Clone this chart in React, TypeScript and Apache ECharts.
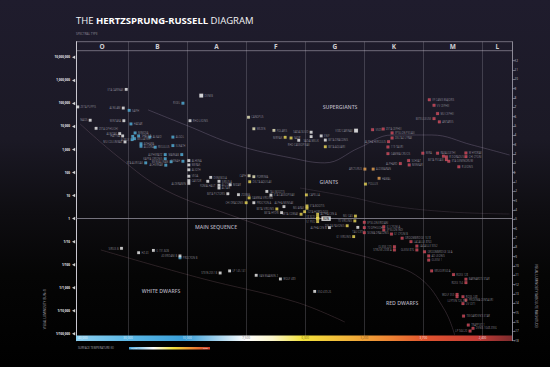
import React, { useEffect, useRef } from "react";
import * as echarts from "echarts";

type Side = "l" | "r" | "t" | "b" | "n";
type Star = [string, number, number, Side];

// Spectral classes and the boundaries between them (continuous spectral index)
const spectralClasses = ["O", "B", "A", "F", "G", "K", "M", "L"];
const classBoundaries = [0.12, 1, 2, 3, 4, 5, 6, 7, 7.5];
const temperatureLabels = ["40,000", "30,000", "10,000", "7,500", "6,000", "5,200", "3,700", "2,400"];

// Luminosity axis (log10 of L/Lsun)
const lumTickValues = [-5, -4, -3, -2, -1, 0, 1, 2, 3, 4, 5, 6, 7];
const lumTickLabels = ["1/100,000", "1/10,000", "1/1,000", "1/100", "1/10", "1", "10", "100", "1,000", "10,000", "100,000", "1,000,000", "10,000,000"];

// Absolute magnitude axis
const magTickValues = [-12, -11, -10, -9, -8, -7, -6, -5, -4, -3, -2, -1, 0, 1, 2, 3, 4, 5, 6, 7, 8, 9, 10, 11, 12, 13, 14, 15, 16, 17, 18];
const magTickLabels = ["-12", "-11", "-10", "-9", "-8", "-7", "-6", "-5", "-4", "-3", "-2", "-1", "0", "+1", "+2", "+3", "+4", "+5", "+6", "+7", "+8", "+9", "+10", "+11", "+12", "+13", "+14", "+15", "+16", "+17", "+18"];

// Stars: [name, spectral index, log10 luminosity, label side]
const blueStars: Star[] = [
  ["RIGEL", 1.93, 5.01, "l"],
  ["SAIPH", 1.02, 4.70, "r"],
  ["HADAR", 1.05, 4.11, "r"],
  ["MIMOSA", 1.12, 3.72, "r"],
  ["SPICA", 1.08, 3.57, "n"],
  ["BELLATRIX", 1.11, 3.47, "r"],
  ["ACRUX", 1.07, 3.43, "l"],
  ["SHAULA", 1.18, 3.59, "r"],
  ["ALKAID", 1.37, 3.54, "r"],
  ["ALGOL", 1.76, 3.54, "r"],
  ["ADHARA", 1.22, 3.25, "r"],
  ["ALUDRA", 1.22, 3.14, "r"],
  ["REGULUS", 1.46, 3.10, "r"],
  ["ELNATH", 1.76, 3.17, "r"],
  ["ALPHERATZ", 1.63, 2.78, "l"],
  ["MARKAB", 1.91, 2.78, "l"],
  ["KAPPA ORIONIS", 1.63, 2.60, "l"],
  ["GIENAH", 1.93, 2.49, "l"],
  ["MENKALINAN", 1.73, 2.47, "l"],
  ["ETA AURIGAE", 1.30, 2.42, "l"],
  ["ACHERNAR", 1.64, 2.32, "l"],
  ["PROCYON B", 1.88, -1.70, "r"],
];

const brightStars: Star[] = [
  ["DENEB", 2.24, 5.34, "r"],
  ["V382 CARINAE", 4.86, 3.82, "l"],
];

const whiteStars: Star[] = [
  ["ETA CARINAE", 0.97, 5.61, "l"],
  ["ZETA PUPPIS", 0.15, 4.85, "r"],
  ["ALNILAM", 0.92, 4.80, "l"],
  ["NAOS", 0.36, 4.27, "l"],
  ["MINTAKA", 0.93, 4.25, "l"],
  ["RHO LEONIS", 2.05, 4.25, "r"],
  ["ZETA OPHIUCHI", 0.46, 3.92, "r"],
  ["ALNITAK", 0.86, 3.69, "l"],
  ["HATYSA", 0.91, 3.59, "l"],
  ["MU COLUMBAE", 0.95, 3.33, "l"],
  ["ALHENA", 2.03, 2.52, "r"],
  ["MERAK", 2.03, 2.33, "r"],
  ["ALIOTH", 2.03, 2.12, "r"],
  ["VEGA", 2.03, 1.84, "r"],
  ["CASTOR", 2.03, 1.65, "r"],
  ["ALDERAMIN", 2.03, 1.53, "l"],
  ["DENEBOLA", 2.40, 1.79, "r"],
  ["FOMALHAUT", 2.35, 1.62, "b"],
  ["SIRIUS A", 2.54, 1.62, "r"],
  ["ALCOR", 2.54, 1.45, "r"],
  ["ALTAIR", 2.54, 1.33, "r"],
  ["MIZAR", 2.73, 1.47, "r"],
  ["BETA PICTORIS", 2.69, 1.08, "l"],
  ["ZOSMA", 2.87, 1.04, "r"],
  ["TAU BOOTIS", 3.35, 1.18, "r"],
  ["ETA CASSIOPEIAE", 3.42, 1.02, "r"],
  ["PROCYON A", 3.13, 0.69, "r"],
  ["ALPHA MENSAE", 3.64, 0.52, "t"],
  ["BETA HYDRI", 3.60, 0.26, "l"],
  ["RHO CASSIOPEIAE", 3.89, 3.40, "b"],
  ["SADALSUUD", 4.10, 3.75, "l"],
  ["SADALMELIK", 4.10, 3.56, "b"],
  ["ENIF", 4.27, 3.59, "r"],
  ["BETA DRACONIS", 4.34, 3.41, "r"],
  ["TAU CETI", 4.89, -0.38, "b"],
  ["ALPHA CEN B", 4.41, -0.39, "l"],
  ["ESO 439-26", 4.16, -3.16, "r"],
  ["SIRIUS B", 0.89, -1.29, "l"],
  ["HZ 43", 1.18, -1.48, "r"],
  ["G 191-B2B", 1.43, -1.38, "r"],
  ["40 ERIDANI B", 1.88, -1.62, "l"],
  ["STEIN 2051 B", 2.56, -2.36, "l"],
  ["LP 145-141", 2.72, -2.27, "r"],
  ["VAN MAANEN 2", 3.17, -2.46, "r"],
  ["WOLF 489", 3.58, -2.62, "r"],
];

const paleYellowStars: Star[] = [
  ["CANOPUS", 3.04, 4.40, "r"],
  ["WEZEN", 3.13, 3.90, "r"],
  ["POLARIS", 3.47, 3.83, "r"],
  ["CAPH", 3.05, 1.86, "l"],
  ["PORRIMA", 3.13, 1.82, "r"],
];

const yellowStars: Star[] = [
  ["MIRFAK", 3.66, 3.53, "l"],
  ["SADR", 3.76, 3.50, "r"],
  ["DELTA AQUILAE", 3.06, 1.60, "r"],
  ["GAMMA VIRGINIS", 3.05, 0.90, "r"],
  ["CHI DRACONIS", 3.00, 0.69, "l"],
  ["BETA VIRGINIS", 3.52, 0.42, "l"],
  ["BETA AQUARII", 4.34, 3.12, "r"],
  ["CAPELLA", 4.02, 1.03, "r"],
  ["POLLUX", 5.02, 1.50, "r"],
  ["ETA BOOTIS", 4.03, 0.55, "r"],
  ["MU ARAE", 4.03, 0.45, "l"],
  ["IOTA HOROLOGII", 3.99, 0.30, "r"],
  ["BETA COMAE", 3.93, 0.19, "l"],
  ["ALPHA CEN A", 4.21, 0.19, "r"],
  ["18 SCO", 4.21, 0.08, "l"],
  ["51 PEG", 4.21, -0.13, "l"],
  ["MU CAS", 4.85, 0.11, "l"],
  ["70 VIRGINIS", 4.84, -0.10, "l"],
  ["DELTA PAVONIS", 4.71, -0.31, "l"],
  ["61 VIRGINIS", 4.82, -0.78, "l"],
];

const sunStar: Star[] = [["SUN", 4.21, 0, "r"]];

const orangeStars: Star[] = [
  ["ARCTURUS", 5.01, 2.15, "l"],
  ["ALDEBARAN", 5.15, 2.15, "r"],
  ["HAMAL", 5.25, 1.75, "r"],
];

const redStars: Star[] = [
  ["V509", 5.14, 3.86, "r"],
  ["ZETA CEPHEI", 5.32, 3.89, "r"],
  ["EPSILON PEGASI", 5.47, 3.72, "r"],
  ["DELTA2 LYRAE", 5.47, 3.50, "r"],
  ["ALPHA HERCULIS", 5.41, 3.34, "l"],
  ["119 TAURI", 5.40, 3.11, "r"],
  ["GAMMA CRUCIS", 5.40, 2.82, "r"],
  ["ALPHARD", 5.61, 2.39, "l"],
  ["SCHEAT", 5.75, 2.52, "r"],
  ["MENKAR", 5.76, 2.33, "r"],
  ["VY CANIS MAJORIS", 6.10, 5.16, "r"],
  ["VV CEPHEI", 6.18, 4.92, "r"],
  ["MU CEPHEI", 6.24, 4.56, "r"],
  ["BETELGEUSE", 6.18, 4.34, "l"],
  ["ANTARES", 6.27, 4.20, "r"],
  ["MIRA", 5.99, 2.84, "r"],
  ["RASALGETHI", 6.24, 2.84, "r"],
  ["GACRUX", 6.34, 2.71, "n"],
  ["R DORADUS", 6.39, 2.68, "r"],
  ["BETA PEGASI", 6.39, 2.56, "l"],
  ["ETA GEMINORUM", 6.43, 2.49, "r"],
  ["W HYDRAE", 6.72, 2.85, "r"],
  ["CHI CYGNI", 6.72, 2.69, "r"],
  ["R LEONIS", 6.60, 2.25, "r"],
  ["EPSILON ERIDANI", 5.00, -0.16, "r"],
  ["70 OPHIUCHI", 5.00, -0.39, "r"],
  ["SIGMA DRACONIS", 5.00, -0.61, "r"],
  ["61 CYGNI A", 5.33, -0.35, "r"],
  ["EPSILON INDI", 5.33, -0.49, "r"],
  ["61 CYGNI B", 5.46, -0.67, "r"],
  ["GROOMBRIDGE 1618", 5.64, -0.85, "r"],
  ["LACAILLE 8760", 5.79, -1.00, "r"],
  ["GLIESE 229", 5.51, -1.22, "l"],
  ["STRUVE 2398 A", 5.51, -1.36, "l"],
  ["LACAILLE 9352", 5.89, -1.19, "r"],
  ["GLIESE 876", 5.89, -1.36, "l"],
  ["GROOMBRIDGE 34 A", 6.02, -1.44, "r"],
  ["AD LEONIS", 6.09, -1.62, "r"],
  ["GLIESE 1", 6.09, -1.80, "r"],
  ["KRUGER 60 A", 6.14, -2.27, "r"],
  ["ROSS 128", 6.51, -2.43, "r"],
  ["BARNARD'S STAR", 6.72, -2.63, "r"],
  ["ROSS 154", 6.72, -2.78, "l"],
  ["WOLF 359", 6.57, -3.29, "l"],
  ["LUYTEN 726-8 A", 6.57, -3.39, "b"],
  ["ROSS 248", 6.67, -3.39, "r"],
  ["PROXIMA CENTAURI", 6.72, -3.53, "r"],
  ["UV CETI", 6.67, -3.69, "r"],
  ["TEEGARDEN'S STAR", 6.68, -4.23, "r"],
  ["TRAPPIST-1", 6.76, -4.62, "r"],
  ["DENIS 1048-3956", 6.84, -4.76, "r"],
  ["LP 944-20", 6.79, -4.88, "l"],
];

// Region names and their positions [spectral index, log L]
const regionNames = ["SUPERGIANTS", "GIANTS", "MAIN SEQUENCE", "WHITE DWARFS", "RED DWARFS"];
const regionX = [4.59, 4.40, 2.49, 1.56, 5.64];
const regionY = [4.83, 1.60, -0.35, -3.14, -3.65];

// Faint region boundary curves
const supergiantCurve = [[1.34, 4.72], [1.98, 4.06], [2.83, 3.2], [3.77, 2.63], [4.33, 2.42], [4.91, 3.07], [5.47, 3.63], [6.14, 3.63], [6.82, 3.2], [7.46, 2.76]];
const mainSequenceCurve = [[0.19, 4.11], [0.86, 2.63], [1.63, 1.24], [2.73, 0.16], [3.84, -0.8], [4.59, -1.36], [5.3, -1.88], [5.94, -2.58], [6.36, -3.97], [6.53, -5.05]];
const whiteDwarfCurve = [[0.54, -1.36], [2.22, -2.58], [3.84, -3.62], [4.67, -4.49]];
const giantCurve = [[3.91, 1.33], [4.76, 0.94], [5.47, 0.55], [6.45, 0.29], [7.46, 0.2]];

const FONT = "'Open Sans', 'DejaVu Sans', sans-serif";
const Y_MIN = -5.3;
const Y_MAX = 7.68;
const HEADER_Y = 7.48;

const SIDE_POS: Record<string, string> = { l: "left", r: "right", t: "top", b: "bottom", n: "right" };

function starSeries(stars: Star[], color: string, size: number, extra: any = {}) {
  return {
    type: "scatter",
    symbol: "rect",
    symbolSize: size,
    clip: false,
    silent: true,
    z: 5,
    itemStyle: { color, borderColor: "rgba(255,255,255,0.3)", borderWidth: 0.3 },
    label: {
      show: true,
      formatter: "{b}",
      fontSize: 2.6,
      color: "#a3a1af",
      distance: 1.3,
      fontFamily: FONT,
    },
    data: stars.map(([name, x, y, side]) => ({
      name,
      value: [x, y],
      label: { position: SIDE_POS[side], show: side !== "n" },
    })),
    ...extra,
  };
}

function curveSeries(data: number[][], color: string) {
  return {
    type: "line",
    data,
    smooth: 0.4,
    symbol: "none",
    silent: true,
    z: 1,
    lineStyle: { color, width: 1 },
  };
}

export default function App() {
  const ref = useRef<HTMLDivElement>(null);

  useEffect(() => {
    document.body.style.margin = "0";
    if (!ref.current) return;
    const chart = echarts.init(ref.current, undefined, { renderer: "svg" });

    const colorBar = new echarts.graphic.LinearGradient(0, 0, 1, 0, [
      { offset: 0, color: "#8dd0f0" },
      { offset: 0.12, color: "#5cb8e6" },
      { offset: 0.25, color: "#3a9fd8" },
      { offset: 0.39, color: "#ffffff" },
      { offset: 0.45, color: "#fbf6cc" },
      { offset: 0.52, color: "#f3e23c" },
      { offset: 0.63, color: "#f2b13a" },
      { offset: 0.72, color: "#ee8434" },
      { offset: 0.8, color: "#e2552f" },
      { offset: 0.92, color: "#c43c36" },
      { offset: 1, color: "#7d2b2d" },
    ]);
    const smallBar = new echarts.graphic.LinearGradient(0, 0, 1, 0, [
      { offset: 0, color: "#4aa6dc" },
      { offset: 0.3, color: "#ffffff" },
      { offset: 0.55, color: "#f3e23c" },
      { offset: 0.8, color: "#ee8434" },
      { offset: 1, color: "#d0402f" },
    ]);

    const option: any = {
      animation: false,
      grid: { left: 76, right: 38, top: 41.7, bottom: 26.3, containLabel: false },
      xAxis: {
        type: "value",
        min: classBoundaries[0],
        max: classBoundaries[classBoundaries.length - 1],
        show: false,
      },
      yAxis: [
        {
          type: "value",
          min: Y_MIN,
          max: Y_MAX,
          axisLine: { show: true, lineStyle: { color: "#c9c7d0", width: 1 } },
          axisTick: { show: false },
          splitLine: { show: false },
          axisLabel: {
            customValues: lumTickValues,
            formatter: (v: number) => lumTickLabels[lumTickValues.indexOf(v)] ?? "",
            fontSize: 3,
            fontWeight: "bold",
            color: "#e8e8ec",
            margin: 6,
            fontFamily: FONT,
          },
        },
        {
          type: "value",
          position: "right",
          inverse: true,
          min: -14.04,
          max: 18,
          axisLine: { show: true, lineStyle: { color: "#8c8996", width: 1 } },
          axisTick: { show: true, customValues: magTickValues, length: 3.5, lineStyle: { color: "#9a98a4", width: 0.6 } },
          splitLine: { show: false },
          axisLabel: {
            customValues: magTickValues,
            formatter: (v: number) => magTickLabels[magTickValues.indexOf(v)] ?? "",
            fontSize: 3,
            color: "#c4c2cc",
            margin: 1.5,
            fontFamily: FONT,
          },
        },
      ],
      series: [
        {
          ...curveSeries(supergiantCurve, "rgba(150,135,165,0.32)"),
          markLine: {
            silent: true,
            symbol: ["none", "none"],
            label: { show: false },
            lineStyle: { color: "rgba(200,198,210,0.28)", width: 0.8, type: "solid" },
            data: classBoundaries.slice(1, -1).map((b) => ({ xAxis: b })),
          },
        },
        {
          ...curveSeries(mainSequenceCurve, "rgba(140,110,130,0.3)"),
          markLine: {
            silent: true,
            symbol: ["none", "none"],
            label: { show: false },
            lineStyle: { color: "#8f8d98", width: 0.8, type: "solid" },
            data: [{ yAxis: 0 }],
          },
        },
        curveSeries(whiteDwarfCurve, "rgba(130,95,105,0.3)"),
        curveSeries(giantCurve, "rgba(130,110,130,0.22)"),
        // left axis triangle markers
        {
          type: "scatter",
          symbol: "triangle",
          symbolRotate: 90,
          symbolSize: [3.5, 3.2],
          symbolOffset: [-2.4, 0],
          clip: false,
          silent: true,
          itemStyle: { color: "#ffffff" },
          data: lumTickValues.map((v) => [classBoundaries[0], v]),
          z: 6,
        },
        // spectral class header letters
        {
          type: "scatter",
          symbolSize: 0.1,
          clip: false,
          silent: true,
          itemStyle: { color: "rgba(0,0,0,0)" },
          label: {
            show: true,
            position: "inside",
            formatter: "{b}",
            fontSize: 6.5,
            fontWeight: "bold",
            color: "#ffffff",
            fontFamily: FONT,
          },
          data: spectralClasses.map((c, i) => ({
            name: c,
            value: [(classBoundaries[i] + classBoundaries[i + 1]) / 2, HEADER_Y],
          })),
        },
        // region labels
        {
          type: "scatter",
          symbolSize: 0.1,
          clip: false,
          silent: true,
          itemStyle: { color: "rgba(0,0,0,0)" },
          label: {
            show: true,
            position: "inside",
            formatter: "{b}",
            fontSize: 5.2,
            fontWeight: 600,
            color: "#dcdae2",
            fontFamily: FONT,
          },
          data: regionNames.map((n, i) => ({ name: n, value: [regionX[i], regionY[i]] })),
        },
        starSeries(blueStars, "#4db2de", 2.8),
        starSeries(whiteStars, "#f3f3f3", 2.8),
        starSeries(brightStars, "#ffffff", 3.8),
        starSeries(paleYellowStars, "#f1edbf", 2.8),
        starSeries(yellowStars, "#f0dc50", 2.8),
        starSeries(orangeStars, "#eea24a", 2.8),
        starSeries(redStars, "#d9475a", 2.8),
        starSeries(sunStar, "#f5e04c", 3.3, {
          label: {
            show: true,
            formatter: "{b}",
            position: "right",
            distance: 2,
            fontSize: 3,
            fontWeight: "bold",
            color: "#111",
            backgroundColor: "#ffffff",
            padding: [0.8, 1.5],
            fontFamily: FONT,
          },
        }),
      ],
    };
    chart.setOption(option);

    // temperature labels positioned at class boundaries through the x scale
    const tempTextColors = [
      "rgba(255,255,255,0.8)", "rgba(255,255,255,0.75)", "rgba(255,255,255,0.75)", "#777",
      "#8a7a25", "#8a5a25", "rgba(255,255,255,0.8)", "rgba(255,255,255,0.8)",
    ];
    const tempTexts = temperatureLabels.map((t, i) => {
      const px = chart.convertToPixel({ xAxisIndex: 0 }, classBoundaries[i]) as number;
      return {
        type: "text",
        x: i === 0 ? px + 2 : px,
        y: 338.3,
        z: 12,
        silent: true,
        style: {
          text: t,
          fontSize: 3,
          fontFamily: FONT,
          fill: tempTextColors[i],
          align: i === 0 ? "left" : "center",
          verticalAlign: "middle",
        },
      };
    });

    chart.setOption({
      graphic: [
        {
          type: "text",
          x: 76,
          y: 20,
          silent: true,
          style: {
            text: "THE {b|HERTZSPRUNG-RUSSELL} DIAGRAM",
            fontSize: 9.5,
            fontFamily: FONT,
            fill: "#f4f4f6",
            verticalAlign: "middle",
            rich: {
              b: { fontSize: 9.5, fontWeight: "bold", fontFamily: FONT, fill: "#ffffff" },
            },
          },
        },
        {
          type: "text",
          x: 76,
          y: 34,
          silent: true,
          style: { text: "SPECTRAL TYPE", fontSize: 3, fontFamily: FONT, fill: "#8f8c9a", verticalAlign: "middle" },
        },
        {
          type: "line",
          silent: true,
          shape: { x1: 76, y1: 41.7, x2: 512, y2: 41.7 },
          style: { stroke: "#85828f", lineWidth: 0.8 },
        },
        {
          type: "line",
          silent: true,
          shape: { x1: 76, y1: 50.7, x2: 512, y2: 50.7 },
          style: { stroke: "#85828f", lineWidth: 0.8 },
        },
        {
          type: "rect",
          silent: true,
          z: 11,
          shape: { x: 76, y: 335.4, width: 436, height: 5.6 },
          style: { fill: colorBar },
        },
        ...tempTexts,
        {
          type: "text",
          x: 78,
          y: 348.3,
          silent: true,
          style: { text: "SURFACE TEMPERATURE (K)", fontSize: 2.8, fontFamily: FONT, fill: "#a9a7b2", verticalAlign: "middle" },
        },
        {
          type: "rect",
          silent: true,
          shape: { x: 129, y: 347, width: 81, height: 2.6 },
          style: { fill: smallBar },
        },
        {
          type: "text",
          x: 131,
          y: 348.3,
          silent: true,
          style: { text: "30,000", fontSize: 2, fontFamily: FONT, fill: "rgba(255,255,255,0.8)", verticalAlign: "middle" },
        },
        {
          type: "text",
          x: 208,
          y: 348.3,
          silent: true,
          style: { text: "3,000", fontSize: 2, fontFamily: FONT, fill: "rgba(255,255,255,0.8)", align: "right", verticalAlign: "middle" },
        },
        {
          type: "text",
          x: 45,
          y: 309,
          rotation: Math.PI / 2,
          silent: true,
          style: { text: "VISUAL LUMINOSITY (SUN=1)", fontSize: 3, fontFamily: FONT, fill: "#a9a7b2", align: "center", verticalAlign: "middle" },
        },
        {
          type: "text",
          x: 535.5,
          y: 296,
          rotation: -Math.PI / 2,
          silent: true,
          style: { text: "VISUAL LUMINOSITY (ABSOLUTE MAGNITUDE)", fontSize: 3, fontFamily: FONT, fill: "#a9a7b2", align: "center", verticalAlign: "middle" },
        },
      ],
    });

    return () => chart.dispose();
  }, []);

  return (
    <div
      ref={ref}
      style={{
        width: 550,
        height: 367,
        background: "linear-gradient(to bottom, #1f1c2d 0%, #1b1925 38%, #0e0d11 58%, #050505 75%, #000000 100%)",
      }}
    />
  );
}
